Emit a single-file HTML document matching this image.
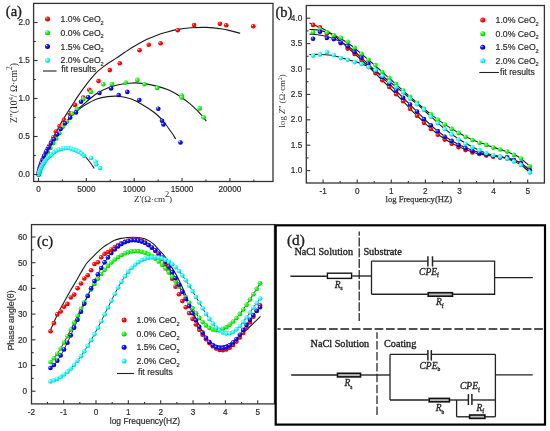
<!DOCTYPE html>
<html><head><meta charset="utf-8"><title>EIS figure</title>
<style>
html,body{margin:0;padding:0;background:#fff;overflow:hidden}
svg{display:block;will-change:transform}
.s{font-family:"Liberation Sans",sans-serif;stroke:#2a2a2a;stroke-width:.18px}
.t{font-family:"Liberation Serif",serif}
</style></head><body>
<svg width="550" height="431" viewBox="0 0 550 431">
<defs>
<radialGradient id="gr" cx="0.4" cy="0.4" r="0.6" fx="0.32" fy="0.3"><stop offset="0" stop-color="#fff"/><stop offset="0.3" stop-color="#ff2020"/><stop offset="0.7" stop-color="#ff0000"/><stop offset="1" stop-color="#c00000"/></radialGradient>
<circle id="mr" cx="0" cy="0" r="2.3" fill="url(#gr)"/>
<circle id="Lr" cx="0" cy="0" r="2.5" fill="url(#gr)"/>
<radialGradient id="gg" cx="0.4" cy="0.4" r="0.6" fx="0.32" fy="0.3"><stop offset="0" stop-color="#fff"/><stop offset="0.3" stop-color="#40ff40"/><stop offset="0.7" stop-color="#10ee10"/><stop offset="1" stop-color="#00b000"/></radialGradient>
<circle id="mg" cx="0" cy="0" r="2.3" fill="url(#gg)"/>
<circle id="Lg" cx="0" cy="0" r="2.5" fill="url(#gg)"/>
<radialGradient id="gb" cx="0.4" cy="0.4" r="0.6" fx="0.32" fy="0.3"><stop offset="0" stop-color="#fff"/><stop offset="0.3" stop-color="#3030ff"/><stop offset="0.7" stop-color="#0000ee"/><stop offset="1" stop-color="#0000a0"/></radialGradient>
<circle id="mb" cx="0" cy="0" r="2.3" fill="url(#gb)"/>
<circle id="Lb" cx="0" cy="0" r="2.5" fill="url(#gb)"/>
<radialGradient id="gc" cx="0.4" cy="0.4" r="0.6" fx="0.32" fy="0.3"><stop offset="0" stop-color="#fff"/><stop offset="0.3" stop-color="#60ffff"/><stop offset="0.7" stop-color="#10f0f0"/><stop offset="1" stop-color="#00c0c0"/></radialGradient>
<circle id="mc" cx="0" cy="0" r="2.3" fill="url(#gc)"/>
<circle id="Lc" cx="0" cy="0" r="2.5" fill="url(#gc)"/>
</defs>
<rect width="550" height="431" fill="#fff"/>
<path d="M38.5,174.5C38.83,173.08 39.67,168.92 40.5,166C41.33,163.08 42.5,159.58 43.5,157C44.5,154.42 45.53,152.5 46.5,150.5C47.47,148.5 48.22,147.17 49.3,145C50.38,142.83 51.65,140.03 53,137.5C54.35,134.97 55.7,132.82 57.4,129.8C59.1,126.78 60.88,123.27 63.2,119.4C65.52,115.53 68.78,110.57 71.3,106.6C73.82,102.63 75.77,99.32 78.3,95.6C80.83,91.88 83.5,88.12 86.5,84.3C89.5,80.48 93.05,75.95 96.3,72.7C99.55,69.45 102.73,67.18 106,64.8C109.27,62.42 112.82,60.45 115.9,58.4C118.98,56.35 121.58,54.43 124.5,52.5C127.42,50.57 129.73,48.95 133.4,46.8C137.07,44.65 142.67,41.5 146.5,39.6C150.33,37.7 153.15,36.62 156.4,35.4C159.65,34.18 162.48,33.3 166,32.3C169.52,31.3 173.33,30.15 177.5,29.4C181.67,28.65 186.17,28.13 191,27.8C195.83,27.47 201.28,27.2 206.5,27.4C211.72,27.6 218.22,28.42 222.3,29C226.38,29.58 228.02,30.18 231,30.9C233.98,31.62 238.67,32.9 240.2,33.3" fill="none" stroke="#1a1a1a" stroke-width="1.1"/>
<path d="M38.5,174.5C38.75,173.58 39.42,170.83 40,169C40.58,167.17 41.25,165.42 42,163.5C42.75,161.58 43.58,159.5 44.5,157.5C45.42,155.5 46.42,153.58 47.5,151.5C48.58,149.42 49.75,147.17 51,145C52.25,142.83 53.58,140.83 55,138.5C56.42,136.17 57.92,133.42 59.5,131C61.08,128.58 62.75,126.25 64.5,124C66.25,121.75 68.33,119.37 70,117.5C71.67,115.63 73.12,114.25 74.5,112.8C75.88,111.35 76.4,110.55 78.3,108.8C80.2,107.05 82.82,104.85 85.9,102.3C88.98,99.75 93.17,95.87 96.8,93.5C100.43,91.13 104.07,89.55 107.7,88.1C111.33,86.65 114.97,85.62 118.6,84.8C122.23,83.98 126.77,83.52 129.5,83.2C132.23,82.88 132.9,82.87 135,82.9C137.1,82.93 139.6,83.12 142.1,83.4C144.6,83.68 147.27,84.07 150,84.6C152.73,85.13 155.58,85.77 158.5,86.6C161.42,87.43 164.67,88.45 167.5,89.6C170.33,90.75 172.97,92.07 175.5,93.5C178.03,94.93 180.37,96.55 182.7,98.2C185.03,99.85 187.32,101.58 189.5,103.4C191.68,105.22 193.83,107.2 195.8,109.1C197.77,111 199.55,112.8 201.3,114.8C203.05,116.8 205.47,120.05 206.3,121.1" fill="none" stroke="#1a1a1a" stroke-width="1.1"/>
<path d="M38.5,174.5C38.75,173.58 39.42,170.83 40,169C40.58,167.17 41.25,165.42 42,163.5C42.75,161.58 43.58,159.5 44.5,157.5C45.42,155.5 46.42,153.58 47.5,151.5C48.58,149.42 49.75,147.17 51,145C52.25,142.83 53.58,140.83 55,138.5C56.42,136.17 57.92,133.42 59.5,131C61.08,128.58 62.75,126.25 64.5,124C66.25,121.75 68.33,119.33 70,117.5C71.67,115.67 73.12,114.27 74.5,113C75.88,111.73 76.4,111.32 78.3,109.9C80.2,108.48 82.82,106.32 85.9,104.5C88.98,102.68 93.17,100.32 96.8,99C100.43,97.68 104.07,97.05 107.7,96.6C111.33,96.15 114.97,95.98 118.6,96.3C122.23,96.62 126.77,97.78 129.5,98.5C132.23,99.22 132.92,99.6 135,100.6C137.08,101.6 139.5,103.02 142,104.5C144.5,105.98 147.75,108 150,109.5C152.25,111 153.68,112 155.5,113.5C157.32,115 159.23,116.75 160.9,118.5C162.57,120.25 164.05,122.12 165.5,124C166.95,125.88 168.38,128.08 169.6,129.8C170.82,131.52 171.78,132.77 172.8,134.3C173.82,135.83 175.22,138.22 175.7,139" fill="none" stroke="#1a1a1a" stroke-width="1.1"/>
<path d="M38.5,174.5C38.83,173.5 39.67,170.5 40.5,168.5C41.33,166.5 42.33,164.33 43.5,162.5C44.67,160.67 46.08,158.92 47.5,157.5C48.92,156.08 50.42,155.08 52,154C53.58,152.92 55.33,151.75 57,151C58.67,150.25 60.33,149.83 62,149.5C63.67,149.17 65.33,149 67,149C68.67,149 70.33,149.17 72,149.5C73.67,149.83 75.5,150.38 77,151C78.5,151.62 79.67,152.32 81,153.2C82.33,154.08 83.8,155.17 85,156.3C86.2,157.43 87.15,158.72 88.2,160C89.25,161.28 90.3,162.58 91.3,164C92.3,165.42 93.72,167.75 94.2,168.5" fill="none" stroke="#1a1a1a" stroke-width="1.1"/>
<use href="#mr" x="38.5" y="174.3"/>
<use href="#mr" x="38.7" y="172.8"/>
<use href="#mr" x="39" y="171.1"/>
<use href="#mr" x="39.4" y="169.3"/>
<use href="#mr" x="39.9" y="167.3"/>
<use href="#mr" x="40.6" y="165"/>
<use href="#mr" x="41.5" y="162.4"/>
<use href="#mr" x="42.6" y="159.5"/>
<use href="#mr" x="44" y="156.2"/>
<use href="#mr" x="45.6" y="152.7"/>
<use href="#mr" x="47.4" y="149.3"/>
<use href="#mr" x="49.4" y="145.8"/>
<use href="#mr" x="51.6" y="141.6"/>
<use href="#mr" x="53.4" y="137.2"/>
<use href="#mr" x="55.8" y="131.6"/>
<use href="#mr" x="59.5" y="126"/>
<use href="#mr" x="63.9" y="119.9"/>
<use href="#mr" x="69.6" y="113.4"/>
<use href="#mr" x="74.9" y="104.9"/>
<use href="#mr" x="83.2" y="97.6"/>
<use href="#mr" x="89.3" y="89.7"/>
<use href="#mr" x="98.5" y="81"/>
<use href="#mr" x="109.8" y="70.1"/>
<use href="#mr" x="119.8" y="63.3"/>
<use href="#mr" x="139.5" y="50.2"/>
<use href="#mr" x="148.7" y="44.8"/>
<use href="#mr" x="160.6" y="43.2"/>
<use href="#mr" x="177.7" y="30.3"/>
<use href="#mr" x="194.1" y="25"/>
<use href="#mr" x="219.9" y="23.7"/>
<use href="#mr" x="226.2" y="25.3"/>
<use href="#mr" x="253.2" y="26.3"/>
<use href="#mg" x="38.9" y="174.6"/>
<use href="#mg" x="39.2" y="173.2"/>
<use href="#mg" x="39.6" y="171.6"/>
<use href="#mg" x="40.2" y="169.8"/>
<use href="#mg" x="40.9" y="167.8"/>
<use href="#mg" x="41.8" y="165.5"/>
<use href="#mg" x="42.9" y="162.9"/>
<use href="#mg" x="44.3" y="159.9"/>
<use href="#mg" x="45.9" y="156.4"/>
<use href="#mg" x="47.9" y="152.6"/>
<use href="#mg" x="50.4" y="148"/>
<use href="#mg" x="53.3" y="143.1"/>
<use href="#mg" x="56.2" y="138.5"/>
<use href="#mg" x="59.1" y="133.3"/>
<use href="#mg" x="62.6" y="126.9"/>
<use href="#mg" x="66.9" y="121.7"/>
<use href="#mg" x="72.3" y="113.6"/>
<use href="#mg" x="76.9" y="108.9"/>
<use href="#mg" x="83.2" y="98.9"/>
<use href="#mg" x="90.8" y="91.9"/>
<use href="#mg" x="103.3" y="84.3"/>
<use href="#mg" x="112" y="84.1"/>
<use href="#mg" x="125.7" y="82.5"/>
<use href="#mg" x="137.3" y="79.9"/>
<use href="#mg" x="144.3" y="84.3"/>
<use href="#mg" x="157" y="87.9"/>
<use href="#mg" x="181.6" y="95.6"/>
<use href="#mg" x="181.6" y="97.5"/>
<use href="#mg" x="199.7" y="108.4"/>
<use href="#mg" x="203.5" y="117.2"/>
<use href="#mb" x="38.6" y="174.4"/>
<use href="#mb" x="38.8" y="173.1"/>
<use href="#mb" x="39.1" y="171.6"/>
<use href="#mb" x="39.5" y="169.9"/>
<use href="#mb" x="40" y="168"/>
<use href="#mb" x="40.7" y="165.8"/>
<use href="#mb" x="41.6" y="163.2"/>
<use href="#mb" x="42.8" y="159.9"/>
<use href="#mb" x="44.2" y="155.9"/>
<use href="#mb" x="46.3" y="151.6"/>
<use href="#mb" x="48.6" y="147.4"/>
<use href="#mb" x="51" y="143.1"/>
<use href="#mb" x="53.9" y="139.1"/>
<use href="#mb" x="57.2" y="134.4"/>
<use href="#mb" x="60.6" y="129"/>
<use href="#mb" x="64.9" y="123.4"/>
<use href="#mb" x="70.2" y="117.6"/>
<use href="#mb" x="76" y="112.4"/>
<use href="#mb" x="81" y="101.7"/>
<use href="#mb" x="88.2" y="97.2"/>
<use href="#mb" x="99.5" y="93"/>
<use href="#mb" x="111.1" y="88.4"/>
<use href="#mb" x="118.7" y="95"/>
<use href="#mb" x="127.3" y="91.9"/>
<use href="#mb" x="139.3" y="100"/>
<use href="#mb" x="158.3" y="108.7"/>
<use href="#mb" x="162" y="120.7"/>
<use href="#mb" x="163.5" y="124.4"/>
<use href="#mb" x="180.5" y="142.5"/>
<use href="#mc" x="38.6" y="174.6"/>
<use href="#mc" x="39" y="173"/>
<use href="#mc" x="39.6" y="171.2"/>
<use href="#mc" x="40.3" y="169.5"/>
<use href="#mc" x="41.1" y="167.8"/>
<use href="#mc" x="42" y="166"/>
<use href="#mc" x="43" y="164.2"/>
<use href="#mc" x="44.1" y="162.4"/>
<use href="#mc" x="45.3" y="160.7"/>
<use href="#mc" x="46.6" y="159"/>
<use href="#mc" x="48" y="157.4"/>
<use href="#mc" x="49.7" y="155.9"/>
<use href="#mc" x="51.5" y="154.5"/>
<use href="#mc" x="54" y="152.2"/>
<use href="#mc" x="56.5" y="150.6"/>
<use href="#mc" x="59" y="149.5"/>
<use href="#mc" x="61.5" y="148.7"/>
<use href="#mc" x="64" y="148.3"/>
<use href="#mc" x="66.5" y="148"/>
<use href="#mc" x="69" y="148"/>
<use href="#mc" x="71.5" y="148.8"/>
<use href="#mc" x="74" y="149.7"/>
<use href="#mc" x="76.5" y="150.6"/>
<use href="#mc" x="79" y="151.7"/>
<use href="#mc" x="81.5" y="153.5"/>
<use href="#mc" x="84" y="155.8"/>
<use href="#mc" x="91" y="158"/>
<use href="#mc" x="95.5" y="161.8"/>
<use href="#mc" x="96.2" y="164.2"/>
<use href="#mc" x="100" y="168"/>
<rect x="33.6" y="3.4" width="239.4" height="178.1" fill="none" stroke="#333" stroke-width="1.3"/>
<line x1="33.6" y1="174.5" x2="37.6" y2="174.5" stroke="#333" stroke-width="1.1"/>
<text x="29.9" y="176.9" font-size="8.2" text-anchor="end" class="s" fill="#2a2a2a" >0.0</text>
<line x1="33.6" y1="155.5" x2="35.8" y2="155.5" stroke="#333" stroke-width="1.1"/>
<line x1="33.6" y1="136.5" x2="37.6" y2="136.5" stroke="#333" stroke-width="1.1"/>
<text x="29.9" y="138.9" font-size="8.2" text-anchor="end" class="s" fill="#2a2a2a" >0.5</text>
<line x1="33.6" y1="117.5" x2="35.8" y2="117.5" stroke="#333" stroke-width="1.1"/>
<line x1="33.6" y1="98.5" x2="37.6" y2="98.5" stroke="#333" stroke-width="1.1"/>
<text x="29.9" y="100.9" font-size="8.2" text-anchor="end" class="s" fill="#2a2a2a" >1.0</text>
<line x1="33.6" y1="79.5" x2="35.8" y2="79.5" stroke="#333" stroke-width="1.1"/>
<line x1="33.6" y1="60.5" x2="37.6" y2="60.5" stroke="#333" stroke-width="1.1"/>
<text x="29.9" y="62.9" font-size="8.2" text-anchor="end" class="s" fill="#2a2a2a" >1.5</text>
<line x1="33.6" y1="41.5" x2="35.8" y2="41.5" stroke="#333" stroke-width="1.1"/>
<line x1="33.6" y1="22.5" x2="37.6" y2="22.5" stroke="#333" stroke-width="1.1"/>
<text x="29.9" y="24.9" font-size="8.2" text-anchor="end" class="s" fill="#2a2a2a" >2.0</text>
<line x1="38.5" y1="181.5" x2="38.5" y2="177.9" stroke="#333" stroke-width="1.1"/>
<text x="38.5" y="192.3" font-size="8.2" text-anchor="middle" class="s" fill="#2a2a2a" >0</text>
<line x1="62.42" y1="181.5" x2="62.42" y2="179.5" stroke="#333" stroke-width="1.1"/>
<line x1="86.35" y1="181.5" x2="86.35" y2="177.9" stroke="#333" stroke-width="1.1"/>
<text x="86.35" y="192.3" font-size="8.2" text-anchor="middle" class="s" fill="#2a2a2a" >5000</text>
<line x1="110.28" y1="181.5" x2="110.28" y2="179.5" stroke="#333" stroke-width="1.1"/>
<line x1="134.2" y1="181.5" x2="134.2" y2="177.9" stroke="#333" stroke-width="1.1"/>
<text x="134.2" y="192.3" font-size="8.2" text-anchor="middle" class="s" fill="#2a2a2a" >10000</text>
<line x1="158.12" y1="181.5" x2="158.12" y2="179.5" stroke="#333" stroke-width="1.1"/>
<line x1="182.05" y1="181.5" x2="182.05" y2="177.9" stroke="#333" stroke-width="1.1"/>
<text x="182.05" y="192.3" font-size="8.2" text-anchor="middle" class="s" fill="#2a2a2a" >15000</text>
<line x1="205.97" y1="181.5" x2="205.97" y2="179.5" stroke="#333" stroke-width="1.1"/>
<line x1="229.9" y1="181.5" x2="229.9" y2="177.9" stroke="#333" stroke-width="1.1"/>
<text x="229.9" y="192.3" font-size="8.2" text-anchor="middle" class="s" fill="#2a2a2a" >20000</text>
<line x1="253.83" y1="181.5" x2="253.83" y2="179.5" stroke="#333" stroke-width="1.1"/>
<text x="5.8" y="15.8" font-size="14.5" text-anchor="start" class="t" fill="#222" stroke="#222" stroke-width="0.35">(a)</text>
<text x="133.9" y="201.6" font-size="9.2" text-anchor="start" class="t" fill="#2a2a2a" letter-spacing="-0.1">Z′(Ω·cm<tspan dy="-4.9" font-size="8.4">2</tspan><tspan dy="4.9">)</tspan></text>
<text transform="translate(16.6,123) rotate(-90)" font-size="9.6" class="t" fill="#2a2a2a">Z″(10<tspan dy="-3.8" font-size="6.3">4</tspan><tspan dy="3.8">/ Ω·cm</tspan><tspan dy="-4.6" font-size="7.6">2</tspan><tspan dy="4.6">)</tspan></text>
<use href="#Lr" x="47.5" y="18.9"/>
<text x="60.6" y="22" font-size="8.7" text-anchor="start" class="s" fill="#2a2a2a" >1.0% CeO<tspan dy="2.5" dx="-0.2" font-size="5.6">2</tspan></text>
<use href="#Lg" x="47.5" y="32.7"/>
<text x="60.6" y="35.8" font-size="8.7" text-anchor="start" class="s" fill="#2a2a2a" >0.0% CeO<tspan dy="2.5" dx="-0.2" font-size="5.6">2</tspan></text>
<use href="#Lb" x="47.5" y="46.5"/>
<text x="60.6" y="49.6" font-size="8.7" text-anchor="start" class="s" fill="#2a2a2a" >1.5% CeO<tspan dy="2.5" dx="-0.2" font-size="5.6">2</tspan></text>
<use href="#Lc" x="47.5" y="60.3"/>
<text x="60.6" y="63.4" font-size="8.7" text-anchor="start" class="s" fill="#2a2a2a" >2.0% CeO<tspan dy="2.5" dx="-0.2" font-size="5.6">2</tspan></text>
<line x1="43" y1="71" x2="56.6" y2="71" stroke="#666" stroke-width="1.6"/>
<text x="61.3" y="71.9" font-size="8.7" text-anchor="start" class="s" fill="#2a2a2a" >fit results</text>
<path d="M309.5,23.1C311.42,23.88 317.08,25.85 321,27.8C324.92,29.75 328.58,31.52 333,34.8C337.42,38.08 342.75,43.3 347.5,47.5C352.25,51.7 356.92,55.75 361.5,60C366.08,64.25 370.42,68.5 375,73C379.58,77.5 384.33,82.3 389,87C393.67,91.7 398.33,96.42 403,101.2C407.67,105.98 412.33,111.1 417,115.7C421.67,120.3 426.33,124.88 431,128.8C435.67,132.72 440.33,136.2 445,139.2C449.67,142.2 454.33,144.63 459,146.8C463.67,148.97 468.33,150.78 473,152.2C477.67,153.62 482.42,154.45 487,155.3C491.58,156.15 497.08,156.8 500.5,157.3C503.92,157.8 505.25,157.8 507.5,158.3C509.75,158.8 511.75,159.47 514,160.3C516.25,161.13 518.37,161.63 521,163.3C523.63,164.97 528.33,169.13 529.8,170.3" fill="none" stroke="#1a1a1a" stroke-width="1.1"/>
<path d="M309.5,29.5C310.85,29.57 314.7,29.42 317.6,29.9C320.5,30.38 324.18,31.55 326.9,32.4C329.62,33.25 331.58,33.93 333.9,35C336.22,36.07 338.5,37.47 340.8,38.8C343.1,40.13 345.4,41.47 347.7,43C350,44.53 352.3,46.18 354.6,48C356.9,49.82 358.1,50.98 361.5,53.9C364.9,56.82 370.42,61.48 375,65.5C379.58,69.52 384.33,73.82 389,78C393.67,82.18 398.33,86.48 403,90.6C407.67,94.72 412.33,98.73 417,102.7C421.67,106.67 426.33,110.75 431,114.4C435.67,118.05 440.33,121.52 445,124.6C449.67,127.68 454.33,130.33 459,132.9C463.67,135.47 468.42,138 473,140C477.58,142 481.92,143.32 486.5,144.9C491.08,146.48 495.92,147.9 500.5,149.5C505.08,151.1 510.58,152.98 514,154.5C517.42,156.02 518.37,156.65 521,158.6C523.63,160.55 528.33,164.93 529.8,166.2" fill="none" stroke="#1a1a1a" stroke-width="1.1"/>
<path d="M309.5,34.1C310.85,34.2 314.7,34.3 317.6,34.7C320.5,35.1 324.18,35.82 326.9,36.5C329.62,37.18 331.58,37.93 333.9,38.8C336.22,39.67 338.5,40.5 340.8,41.7C343.1,42.9 345.4,44.37 347.7,46C350,47.63 352.3,49.53 354.6,51.5C356.9,53.47 358.1,54.63 361.5,57.8C364.9,60.97 370.42,66.18 375,70.5C379.58,74.82 384.33,79.17 389,83.7C393.67,88.23 398.33,93.05 403,97.7C407.67,102.35 412.33,107 417,111.6C421.67,116.2 426.33,121.15 431,125.3C435.67,129.45 440.33,133.27 445,136.5C449.67,139.73 454.33,142.37 459,144.7C463.67,147.03 468.42,148.88 473,150.5C477.58,152.12 481.92,153.35 486.5,154.4C491.08,155.45 497,156.22 500.5,156.8C504,157.38 505.25,157.37 507.5,157.9C509.75,158.43 511.75,159.12 514,160C516.25,160.88 518.37,161.48 521,163.2C523.63,164.92 528.33,169.12 529.8,170.3" fill="none" stroke="#1a1a1a" stroke-width="1.1"/>
<path d="M309.5,54.5C311.23,54.5 315.83,54.28 319.9,54.5C323.97,54.72 329.25,54.93 333.9,55.8C338.55,56.67 343.17,58.38 347.8,59.7C352.43,61.02 357.17,61.9 361.7,63.7C366.23,65.5 370.45,67.57 375,70.5C379.55,73.43 384.33,77.63 389,81.3C393.67,84.97 398.33,88.68 403,92.5C407.67,96.32 412.33,100.18 417,104.2C421.67,108.22 426.33,112.45 431,116.6C435.67,120.75 440.33,125.33 445,129.1C449.67,132.87 454.33,136.18 459,139.2C463.67,142.22 468.42,144.85 473,147.2C477.58,149.55 481.92,151.7 486.5,153.3C491.08,154.9 497,155.9 500.5,156.8C504,157.7 505.25,157.92 507.5,158.7C509.75,159.48 511.75,160.45 514,161.5C516.25,162.55 518.37,163.18 521,165C523.63,166.82 528.33,171.17 529.8,172.4" fill="none" stroke="#1a1a1a" stroke-width="1.1"/>
<use href="#mr" x="313" y="24.9"/>
<use href="#mr" x="319.93" y="27.4"/>
<use href="#mr" x="326.86" y="33.8"/>
<use href="#mr" x="333.79" y="38.8"/>
<use href="#mr" x="340.72" y="43.2"/>
<use href="#mr" x="347.65" y="48.6"/>
<use href="#mr" x="354.58" y="54"/>
<use href="#mr" x="361.51" y="60.1"/>
<use href="#mr" x="368.44" y="66.5"/>
<use href="#mr" x="375.37" y="73.1"/>
<use href="#mr" x="382.3" y="80.2"/>
<use href="#mr" x="389.23" y="87"/>
<use href="#mr" x="396.16" y="94.3"/>
<use href="#mr" x="403.09" y="101.2"/>
<use href="#mr" x="410.02" y="108.8"/>
<use href="#mr" x="416.95" y="115.7"/>
<use href="#mr" x="423.88" y="122.7"/>
<use href="#mr" x="430.81" y="129"/>
<use href="#mr" x="437.74" y="134.8"/>
<use href="#mr" x="444.67" y="139.6"/>
<use href="#mr" x="451.6" y="143.8"/>
<use href="#mr" x="458.53" y="147.2"/>
<use href="#mr" x="465.46" y="150.1"/>
<use href="#mr" x="472.39" y="152.4"/>
<use href="#mr" x="479.32" y="153.9"/>
<use href="#mr" x="486.25" y="155.4"/>
<use href="#mr" x="493.18" y="156.8"/>
<use href="#mr" x="500.11" y="157.6"/>
<use href="#mr" x="507.04" y="158.3"/>
<use href="#mr" x="513.97" y="160.5"/>
<use href="#mr" x="520.9" y="163.5"/>
<use href="#mr" x="529.8" y="170"/>
<use href="#mg" x="313" y="32.2"/>
<use href="#mg" x="319.93" y="29.2"/>
<use href="#mg" x="326.86" y="32.4"/>
<use href="#mg" x="333.79" y="35.3"/>
<use href="#mg" x="340.72" y="37.7"/>
<use href="#mg" x="347.65" y="41.7"/>
<use href="#mg" x="354.58" y="47.8"/>
<use href="#mg" x="361.51" y="53.9"/>
<use href="#mg" x="368.44" y="59.7"/>
<use href="#mg" x="375.37" y="65.1"/>
<use href="#mg" x="382.3" y="72"/>
<use href="#mg" x="389.23" y="78"/>
<use href="#mg" x="396.16" y="84.1"/>
<use href="#mg" x="403.09" y="90.6"/>
<use href="#mg" x="410.02" y="96.7"/>
<use href="#mg" x="416.95" y="102.7"/>
<use href="#mg" x="423.88" y="108.8"/>
<use href="#mg" x="430.81" y="114.4"/>
<use href="#mg" x="437.74" y="119.9"/>
<use href="#mg" x="444.67" y="124.6"/>
<use href="#mg" x="451.6" y="128.9"/>
<use href="#mg" x="458.53" y="132.9"/>
<use href="#mg" x="465.46" y="136.7"/>
<use href="#mg" x="472.39" y="140"/>
<use href="#mg" x="479.32" y="142.8"/>
<use href="#mg" x="486.25" y="144.9"/>
<use href="#mg" x="493.18" y="147.6"/>
<use href="#mg" x="500.11" y="149.5"/>
<use href="#mg" x="507.04" y="151.6"/>
<use href="#mg" x="513.97" y="154.9"/>
<use href="#mg" x="520.9" y="158.5"/>
<use href="#mg" x="529.8" y="166.2"/>
<use href="#mb" x="313" y="38.8"/>
<use href="#mb" x="319.93" y="31.8"/>
<use href="#mb" x="326.86" y="38"/>
<use href="#mb" x="333.79" y="39.1"/>
<use href="#mb" x="340.72" y="42.6"/>
<use href="#mb" x="347.65" y="46.3"/>
<use href="#mb" x="354.58" y="51.9"/>
<use href="#mb" x="361.51" y="57.8"/>
<use href="#mb" x="368.44" y="63.8"/>
<use href="#mb" x="375.37" y="70.5"/>
<use href="#mb" x="382.3" y="77"/>
<use href="#mb" x="389.23" y="83.7"/>
<use href="#mb" x="396.16" y="90.6"/>
<use href="#mb" x="403.09" y="97.7"/>
<use href="#mb" x="410.02" y="104.5"/>
<use href="#mb" x="416.95" y="111.6"/>
<use href="#mb" x="423.88" y="119"/>
<use href="#mb" x="430.81" y="125.3"/>
<use href="#mb" x="437.74" y="131.1"/>
<use href="#mb" x="444.67" y="136.7"/>
<use href="#mb" x="451.6" y="140.9"/>
<use href="#mb" x="458.53" y="144.9"/>
<use href="#mb" x="465.46" y="148.2"/>
<use href="#mb" x="472.39" y="150.7"/>
<use href="#mb" x="479.32" y="153"/>
<use href="#mb" x="486.25" y="154.5"/>
<use href="#mb" x="493.18" y="155.8"/>
<use href="#mb" x="500.11" y="156.8"/>
<use href="#mb" x="507.04" y="157.4"/>
<use href="#mb" x="513.97" y="160"/>
<use href="#mb" x="520.9" y="163.1"/>
<use href="#mb" x="529.8" y="170.2"/>
<use href="#mc" x="313" y="55.6"/>
<use href="#mc" x="319.93" y="54.4"/>
<use href="#mc" x="326.86" y="52"/>
<use href="#mc" x="333.79" y="55"/>
<use href="#mc" x="340.72" y="58.1"/>
<use href="#mc" x="347.65" y="59.8"/>
<use href="#mc" x="354.58" y="62.1"/>
<use href="#mc" x="361.51" y="64"/>
<use href="#mc" x="368.44" y="67.1"/>
<use href="#mc" x="375.37" y="70"/>
<use href="#mc" x="382.3" y="75.8"/>
<use href="#mc" x="389.23" y="81.5"/>
<use href="#mc" x="396.16" y="86.9"/>
<use href="#mc" x="403.09" y="92.5"/>
<use href="#mc" x="410.02" y="98.6"/>
<use href="#mc" x="416.95" y="104.2"/>
<use href="#mc" x="423.88" y="109.7"/>
<use href="#mc" x="430.81" y="116.6"/>
<use href="#mc" x="437.74" y="123.1"/>
<use href="#mc" x="444.67" y="129.1"/>
<use href="#mc" x="451.6" y="134.4"/>
<use href="#mc" x="458.53" y="139.2"/>
<use href="#mc" x="465.46" y="143.8"/>
<use href="#mc" x="472.39" y="147.2"/>
<use href="#mc" x="479.32" y="150.1"/>
<use href="#mc" x="486.25" y="153.3"/>
<use href="#mc" x="493.18" y="155.2"/>
<use href="#mc" x="500.11" y="156.8"/>
<use href="#mc" x="507.04" y="158.7"/>
<use href="#mc" x="513.97" y="161.5"/>
<use href="#mc" x="520.9" y="165"/>
<use href="#mc" x="529.8" y="172.4"/>
<rect x="306.3" y="5.5" width="238.1" height="177.5" fill="none" stroke="#333" stroke-width="1.3"/>
<line x1="306.3" y1="170.6" x2="310.3" y2="170.6" stroke="#333" stroke-width="1.1"/>
<text x="302.2" y="173.1" font-size="8.2" text-anchor="end" class="s" fill="#2a2a2a" >1.0</text>
<line x1="306.3" y1="157.9" x2="308.5" y2="157.9" stroke="#333" stroke-width="1.1"/>
<line x1="306.3" y1="145.2" x2="310.3" y2="145.2" stroke="#333" stroke-width="1.1"/>
<text x="302.2" y="147.7" font-size="8.2" text-anchor="end" class="s" fill="#2a2a2a" >1.5</text>
<line x1="306.3" y1="132.5" x2="308.5" y2="132.5" stroke="#333" stroke-width="1.1"/>
<line x1="306.3" y1="119.8" x2="310.3" y2="119.8" stroke="#333" stroke-width="1.1"/>
<text x="302.2" y="122.3" font-size="8.2" text-anchor="end" class="s" fill="#2a2a2a" >2.0</text>
<line x1="306.3" y1="107.1" x2="308.5" y2="107.1" stroke="#333" stroke-width="1.1"/>
<line x1="306.3" y1="94.4" x2="310.3" y2="94.4" stroke="#333" stroke-width="1.1"/>
<text x="302.2" y="96.9" font-size="8.2" text-anchor="end" class="s" fill="#2a2a2a" >2.5</text>
<line x1="306.3" y1="81.7" x2="308.5" y2="81.7" stroke="#333" stroke-width="1.1"/>
<line x1="306.3" y1="69" x2="310.3" y2="69" stroke="#333" stroke-width="1.1"/>
<text x="302.2" y="71.5" font-size="8.2" text-anchor="end" class="s" fill="#2a2a2a" >3.0</text>
<line x1="306.3" y1="56.3" x2="308.5" y2="56.3" stroke="#333" stroke-width="1.1"/>
<line x1="306.3" y1="43.6" x2="310.3" y2="43.6" stroke="#333" stroke-width="1.1"/>
<text x="302.2" y="46.1" font-size="8.2" text-anchor="end" class="s" fill="#2a2a2a" >3.5</text>
<line x1="306.3" y1="30.9" x2="308.5" y2="30.9" stroke="#333" stroke-width="1.1"/>
<line x1="306.3" y1="18.2" x2="310.3" y2="18.2" stroke="#333" stroke-width="1.1"/>
<text x="302.2" y="20.7" font-size="8.2" text-anchor="end" class="s" fill="#2a2a2a" >4.0</text>
<line x1="323.1" y1="183" x2="323.1" y2="179.4" stroke="#333" stroke-width="1.1"/>
<text x="323.1" y="194.2" font-size="8.2" text-anchor="middle" class="s" fill="#2a2a2a" >-1</text>
<line x1="340.15" y1="183" x2="340.15" y2="181" stroke="#333" stroke-width="1.1"/>
<line x1="357.2" y1="183" x2="357.2" y2="179.4" stroke="#333" stroke-width="1.1"/>
<text x="357.2" y="194.2" font-size="8.2" text-anchor="middle" class="s" fill="#2a2a2a" >0</text>
<line x1="374.25" y1="183" x2="374.25" y2="181" stroke="#333" stroke-width="1.1"/>
<line x1="391.3" y1="183" x2="391.3" y2="179.4" stroke="#333" stroke-width="1.1"/>
<text x="391.3" y="194.2" font-size="8.2" text-anchor="middle" class="s" fill="#2a2a2a" >1</text>
<line x1="408.35" y1="183" x2="408.35" y2="181" stroke="#333" stroke-width="1.1"/>
<line x1="425.4" y1="183" x2="425.4" y2="179.4" stroke="#333" stroke-width="1.1"/>
<text x="425.4" y="194.2" font-size="8.2" text-anchor="middle" class="s" fill="#2a2a2a" >2</text>
<line x1="442.45" y1="183" x2="442.45" y2="181" stroke="#333" stroke-width="1.1"/>
<line x1="459.5" y1="183" x2="459.5" y2="179.4" stroke="#333" stroke-width="1.1"/>
<text x="459.5" y="194.2" font-size="8.2" text-anchor="middle" class="s" fill="#2a2a2a" >3</text>
<line x1="476.55" y1="183" x2="476.55" y2="181" stroke="#333" stroke-width="1.1"/>
<line x1="493.6" y1="183" x2="493.6" y2="179.4" stroke="#333" stroke-width="1.1"/>
<text x="493.6" y="194.2" font-size="8.2" text-anchor="middle" class="s" fill="#2a2a2a" >4</text>
<line x1="510.65" y1="183" x2="510.65" y2="181" stroke="#333" stroke-width="1.1"/>
<line x1="527.7" y1="183" x2="527.7" y2="179.4" stroke="#333" stroke-width="1.1"/>
<text x="527.7" y="194.2" font-size="8.2" text-anchor="middle" class="s" fill="#2a2a2a" >5</text>
<text x="275.5" y="16.5" font-size="14.5" text-anchor="start" class="t" fill="#222" stroke="#222" stroke-width="0.35">(b)</text>
<text x="385.5" y="202.4" font-size="8.6" text-anchor="start" class="t" fill="#333" stroke="#333" stroke-width="0.25">log Frequency(HZ)</text>
<text transform="translate(285.2,127.4) rotate(-90)" font-size="8.8" class="t" fill="#333">log <tspan font-style="italic">Z</tspan>″ (Ω·cm<tspan dy="-3.5" font-size="5.5">2</tspan><tspan dy="3.5">)</tspan></text>
<use href="#Lr" x="482.7" y="20.1"/>
<text x="495.6" y="23.2" font-size="8.7" text-anchor="start" class="s" fill="#2a2a2a" >1.0% CeO<tspan dy="2.5" dx="-0.2" font-size="5.6">2</tspan></text>
<use href="#Lg" x="482.7" y="33.7"/>
<text x="495.6" y="36.8" font-size="8.7" text-anchor="start" class="s" fill="#2a2a2a" >0.0% CeO<tspan dy="2.5" dx="-0.2" font-size="5.6">2</tspan></text>
<use href="#Lb" x="482.7" y="47.2"/>
<text x="495.6" y="50.3" font-size="8.7" text-anchor="start" class="s" fill="#2a2a2a" >1.5% CeO<tspan dy="2.5" dx="-0.2" font-size="5.6">2</tspan></text>
<use href="#Lc" x="482.7" y="60.8"/>
<text x="495.6" y="63.9" font-size="8.7" text-anchor="start" class="s" fill="#2a2a2a" >2.0% CeO<tspan dy="2.5" dx="-0.2" font-size="5.6">2</tspan></text>
<line x1="479.3" y1="72.5" x2="498.9" y2="72.5" stroke="#222" stroke-width="1.1"/>
<text x="500" y="74.5" font-size="8.7" text-anchor="start" class="s" fill="#2a2a2a" >fit results</text>
<path d="M49.4,332.5C50.32,330.42 53.13,323.83 54.9,320C56.67,316.17 58.18,313 60,309.5C61.82,306 64.05,302.17 65.8,299C67.55,295.83 68.87,293.33 70.5,290.5C72.13,287.67 73.85,285 75.6,282C77.35,279 79.18,275.58 81,272.5C82.82,269.42 84.67,265.97 86.5,263.5C88.33,261.03 90.17,259.58 92,257.7C93.83,255.82 95.67,253.92 97.5,252.2C99.33,250.48 101.18,248.78 103,247.4C104.82,246.02 106.48,245.08 108.4,243.9C110.32,242.72 112.4,241.22 114.5,240.3C116.6,239.38 118.83,238.87 121,238.4C123.17,237.93 125.35,237.68 127.5,237.5C129.65,237.32 131.75,237.25 133.9,237.3C136.05,237.35 138.23,237.4 140.4,237.8C142.57,238.2 144.73,238.7 146.9,239.7C149.07,240.7 151.38,242.08 153.4,243.8C155.42,245.52 157.02,247.8 159,250C160.98,252.2 163.32,254.33 165.3,257C167.28,259.67 168.93,262.77 170.9,266C172.87,269.23 175.25,272.98 177.1,276.4C178.95,279.82 180.43,283.07 182,286.5C183.57,289.93 185.17,293.83 186.5,297C187.83,300.17 188.58,302.25 190,305.5C191.42,308.75 193.5,313.25 195,316.5C196.5,319.75 197.67,322.33 199,325C200.33,327.67 201.67,330.2 203,332.5C204.33,334.8 205.67,337.08 207,338.8C208.33,340.52 209.5,341.72 211,342.8C212.5,343.88 214.5,344.77 216,345.3C217.5,345.83 218.53,345.95 220,346C221.47,346.05 222.77,346.25 224.8,345.6C226.83,344.95 229.75,343.63 232.2,342.1C234.65,340.57 237.07,338.5 239.5,336.4C241.93,334.3 244.37,331.78 246.8,329.5C249.23,327.22 251.83,324.88 254.1,322.7C256.37,320.52 259.35,317.45 260.4,316.4" fill="none" stroke="#1a1a1a" stroke-width="1.1"/>
<path d="M50.5,361.93C51.09,361.28 52.87,359.5 54.05,358.04C55.23,356.59 56.42,354.96 57.6,353.21C58.79,351.47 59.97,349.57 61.15,347.59C62.34,345.61 63.52,343.49 64.7,341.32C65.89,339.15 67.07,336.88 68.25,334.57C69.44,332.26 70.62,329.87 71.81,327.48C72.99,325.08 74.17,322.63 75.36,320.2C76.54,317.77 77.72,315.31 78.91,312.89C80.09,310.47 81.27,308.05 82.46,305.69C83.64,303.33 84.82,300.99 86.01,298.73C87.19,296.47 88.38,294.26 89.56,292.14C90.74,290.03 91.93,287.99 93.11,286.04C94.29,284.09 95.48,282.23 96.66,280.45C97.84,278.67 99.03,276.97 100.21,275.35C101.4,273.73 102.58,272.2 103.76,270.74C104.95,269.29 106.13,267.91 107.31,266.61C108.5,265.32 109.68,264.1 110.86,262.96C112.05,261.83 113.23,260.77 114.42,259.8C115.6,258.82 116.78,257.93 117.97,257.11C119.15,256.3 120.33,255.57 121.52,254.92C122.7,254.27 123.88,253.7 125.07,253.21C126.25,252.72 127.44,252.31 128.62,251.99C129.8,251.66 130.99,251.42 132.17,251.26C133.35,251.1 134.54,251.02 135.72,251.02C136.9,251.02 138.09,251.11 139.27,251.28C140.45,251.45 141.64,251.7 142.82,252.03C144.01,252.37 145.19,252.78 146.37,253.28C147.56,253.78 148.74,254.36 149.92,255.03C151.11,255.7 152.29,256.45 153.47,257.28C154.66,258.11 155.84,259.03 157.03,260.03C158.21,261.03 159.39,262.12 160.58,263.27C161.76,264.43 162.94,265.66 164.13,266.96C165.31,268.26 166.49,269.64 167.68,271.08C168.86,272.51 170.05,274.02 171.23,275.58C172.41,277.14 173.6,278.76 174.78,280.43C175.96,282.1 177.15,283.83 178.33,285.61C179.51,287.38 180.7,289.21 181.88,291.07C183.06,292.93 184.25,294.85 185.43,296.76C186.62,298.67 187.8,300.62 188.98,302.52C190.17,304.42 191.35,306.33 192.53,308.17C193.72,310 194.9,311.82 196.08,313.52C197.27,315.23 198.45,316.89 199.64,318.41C200.82,319.93 202,321.37 203.19,322.64C204.37,323.91 205.55,325.08 206.74,326.04C207.92,327.01 209.1,327.82 210.29,328.44C211.47,329.06 212.66,329.49 213.84,329.76C215.02,330.04 216.21,330.13 217.39,330.09C218.57,330.04 219.76,329.83 220.94,329.49C222.12,329.15 223.31,328.65 224.49,328.04C225.68,327.43 226.86,326.68 228.04,325.82C229.23,324.96 230.41,323.97 231.59,322.9C232.78,321.82 233.96,320.62 235.14,319.35C236.33,318.08 237.51,316.7 238.69,315.26C239.88,313.82 241.06,312.28 242.25,310.69C243.43,309.11 244.61,307.44 245.8,305.73C246.98,304.02 248.16,302.25 249.35,300.45C250.53,298.65 251.71,296.79 252.9,294.92C254.08,293.05 255.27,291.13 256.45,289.22C257.63,287.3 259.41,284.39 260,283.42" fill="none" stroke="#1a1a1a" stroke-width="0.9"/>
<path d="M50.5,367.98C51.09,367.44 52.87,366.06 54.05,364.78C55.23,363.5 56.42,361.97 57.6,360.29C58.79,358.61 59.97,356.71 61.15,354.68C62.34,352.66 63.52,350.45 64.7,348.15C65.89,345.85 67.07,343.4 68.25,340.89C69.44,338.37 70.62,335.73 71.81,333.06C72.99,330.4 74.17,327.64 75.36,324.88C76.54,322.12 77.72,319.3 78.91,316.51C80.09,313.71 81.27,310.89 82.46,308.11C83.64,305.33 84.82,302.54 86.01,299.8C87.19,297.07 88.38,294.35 89.56,291.7C90.74,289.06 91.93,286.44 93.11,283.92C94.29,281.4 95.48,278.93 96.66,276.58C97.84,274.22 99.03,271.94 100.21,269.78C101.4,267.63 102.58,265.58 103.76,263.66C104.95,261.74 106.13,259.95 107.31,258.28C108.5,256.6 109.68,255.06 110.86,253.63C112.05,252.2 113.23,250.9 114.42,249.71C115.6,248.52 116.78,247.45 117.97,246.48C119.15,245.52 120.33,244.68 121.52,243.94C122.7,243.21 123.88,242.59 125.07,242.07C126.25,241.55 127.44,241.14 128.62,240.84C129.8,240.53 130.99,240.33 132.17,240.23C133.35,240.13 134.54,240.14 135.72,240.24C136.9,240.34 138.09,240.54 139.27,240.83C140.45,241.12 141.64,241.52 142.82,242C144.01,242.48 145.19,243.05 146.37,243.71C147.56,244.37 148.74,245.13 149.92,245.96C151.11,246.8 152.29,247.72 153.47,248.73C154.66,249.73 155.84,250.82 157.03,251.99C158.21,253.16 159.39,254.41 160.58,255.75C161.76,257.1 162.94,258.53 164.13,260.07C165.31,261.6 166.49,263.23 167.68,264.98C168.86,266.73 170.05,268.59 171.23,270.55C172.41,272.51 173.6,274.59 174.78,276.75C175.96,278.9 177.15,281.17 178.33,283.49C179.51,285.82 180.7,288.26 181.88,290.71C183.06,293.17 184.25,295.72 185.43,298.25C186.62,300.77 187.8,303.36 188.98,305.89C190.17,308.42 191.35,310.97 192.53,313.44C193.72,315.91 194.9,318.37 196.08,320.71C197.27,323.05 198.45,325.34 199.64,327.49C200.82,329.63 202,331.7 203.19,333.58C204.37,335.46 205.55,337.23 206.74,338.78C207.92,340.33 209.1,341.72 210.29,342.9C211.47,344.07 212.66,345.04 213.84,345.82C215.02,346.59 216.21,347.17 217.39,347.57C218.57,347.97 219.76,348.17 220.94,348.2C222.12,348.23 223.31,348.07 224.49,347.75C225.68,347.44 226.86,346.94 228.04,346.28C229.23,345.63 230.41,344.8 231.59,343.82C232.78,342.85 233.96,341.7 235.14,340.43C236.33,339.15 237.51,337.69 238.69,336.16C239.88,334.63 241.06,332.95 242.25,331.26C243.43,329.56 244.61,327.76 245.8,326C246.98,324.24 248.16,322.42 249.35,320.69C250.53,318.96 251.71,317.21 252.9,315.61C254.08,314 255.27,312.43 256.45,311.05C257.63,309.67 259.41,307.93 260,307.31" fill="none" stroke="#1a1a1a" stroke-width="0.9"/>
<path d="M50.5,381.41C51.09,381.2 52.87,380.67 54.05,380.19C55.23,379.71 56.42,379.16 57.6,378.54C58.79,377.92 59.97,377.23 61.15,376.46C62.34,375.68 63.52,374.84 64.7,373.91C65.89,372.99 67.07,371.98 68.25,370.9C69.44,369.81 70.62,368.65 71.81,367.39C72.99,366.14 74.17,364.81 75.36,363.39C76.54,361.98 77.72,360.47 78.91,358.89C80.09,357.32 81.27,355.65 82.46,353.92C83.64,352.2 84.82,350.39 86.01,348.52C87.19,346.65 88.38,344.71 89.56,342.71C90.74,340.71 91.93,338.64 93.11,336.52C94.29,334.4 95.48,332.22 96.66,329.99C97.84,327.76 99.03,325.47 100.21,323.14C101.4,320.82 102.58,318.43 103.76,316.04C104.95,313.64 106.13,311.2 107.31,308.79C108.5,306.38 109.68,303.95 110.86,301.57C112.05,299.19 113.23,296.81 114.42,294.52C115.6,292.22 116.78,289.96 117.97,287.8C119.15,285.64 120.33,283.54 121.52,281.56C122.7,279.59 123.88,277.7 125.07,275.97C126.25,274.24 127.44,272.63 128.62,271.16C129.8,269.7 130.99,268.38 132.17,267.17C133.35,265.97 134.54,264.9 135.72,263.94C136.9,262.98 138.09,262.15 139.27,261.42C140.45,260.68 141.64,260.06 142.82,259.53C144.01,258.99 145.19,258.57 146.37,258.22C147.56,257.87 148.74,257.61 149.92,257.42C151.11,257.24 152.29,257.13 153.47,257.1C154.66,257.07 155.84,257.12 157.03,257.26C158.21,257.4 159.39,257.62 160.58,257.94C161.76,258.26 162.94,258.66 164.13,259.17C165.31,259.68 166.49,260.28 167.68,260.99C168.86,261.7 170.05,262.5 171.23,263.42C172.41,264.35 173.6,265.37 174.78,266.51C175.96,267.66 177.15,268.92 178.33,270.29C179.51,271.67 180.7,273.18 181.88,274.77C183.06,276.35 184.25,278.06 185.43,279.83C186.62,281.59 187.8,283.45 188.98,285.34C190.17,287.23 191.35,289.2 192.53,291.17C193.72,293.14 194.9,295.17 196.08,297.18C197.27,299.19 198.45,301.23 199.64,303.23C200.82,305.23 202,307.24 203.19,309.19C204.37,311.14 205.55,313.08 206.74,314.92C207.92,316.76 209.1,318.56 210.29,320.22C211.47,321.88 212.66,323.47 213.84,324.89C215.02,326.3 216.21,327.6 217.39,328.69C218.57,329.79 219.76,330.72 220.94,331.44C222.12,332.16 223.31,332.7 224.49,333.02C225.68,333.35 226.86,333.48 228.04,333.4C229.23,333.32 230.41,333.03 231.59,332.52C232.78,332.02 233.96,331.27 235.14,330.38C236.33,329.48 237.51,328.35 238.69,327.13C239.88,325.91 241.06,324.5 242.25,323.04C243.43,321.58 244.61,319.97 245.8,318.35C246.98,316.73 248.16,315.01 249.35,313.32C250.53,311.62 251.71,309.87 252.9,308.18C254.08,306.5 255.27,304.8 256.45,303.2C257.63,301.61 259.41,299.39 260,298.63" fill="none" stroke="#1a1a1a" stroke-width="0.9"/>
<use href="#mr" x="50.5" y="331.2"/>
<use href="#mr" x="53.88" y="323.1"/>
<use href="#mr" x="57.26" y="314.4"/>
<use href="#mr" x="60.64" y="311.5"/>
<use href="#mr" x="64.02" y="306.8"/>
<use href="#mr" x="67.4" y="303.9"/>
<use href="#mr" x="70.78" y="297.5"/>
<use href="#mr" x="74.16" y="294.6"/>
<use href="#mr" x="77.54" y="288.3"/>
<use href="#mr" x="80.92" y="283.5"/>
<use href="#mr" x="84.3" y="278.5"/>
<use href="#mr" x="87.68" y="275.2"/>
<use href="#mr" x="91.06" y="270.2"/>
<use href="#mr" x="94.44" y="264"/>
<use href="#mr" x="97.82" y="262.3"/>
<use href="#mr" x="101.2" y="257.3"/>
<use href="#mr" x="104.58" y="253.8"/>
<use href="#mr" x="107.96" y="252"/>
<use href="#mr" x="111.34" y="249.6"/>
<use href="#mr" x="114.72" y="247"/>
<use href="#mr" x="118.1" y="245"/>
<use href="#mr" x="121.48" y="243.2"/>
<use href="#mr" x="124.86" y="241.79"/>
<use href="#mr" x="128.24" y="240.55"/>
<use href="#mr" x="131.62" y="239.73"/>
<use href="#mr" x="135" y="239.43"/>
<use href="#mr" x="138.38" y="239.76"/>
<use href="#mr" x="141.76" y="240.83"/>
<use href="#mr" x="145.14" y="242.64"/>
<use href="#mr" x="148.52" y="245.03"/>
<use href="#mr" x="151.9" y="247.79"/>
<use href="#mr" x="155.28" y="250.89"/>
<use href="#mr" x="158.66" y="254.52"/>
<use href="#mr" x="162.04" y="258.95"/>
<use href="#mr" x="165.42" y="264.43"/>
<use href="#mr" x="168.8" y="271.13"/>
<use href="#mr" x="172.18" y="278.75"/>
<use href="#mr" x="175.56" y="286.67"/>
<use href="#mr" x="178.94" y="294.25"/>
<use href="#mr" x="182.32" y="301.05"/>
<use href="#mr" x="185.7" y="307.23"/>
<use href="#mr" x="189.08" y="313.09"/>
<use href="#mr" x="192.46" y="318.85"/>
<use href="#mr" x="195.84" y="324.46"/>
<use href="#mr" x="199.22" y="329.79"/>
<use href="#mr" x="202.6" y="334.76"/>
<use href="#mr" x="205.98" y="339.22"/>
<use href="#mr" x="209.36" y="343.09"/>
<use href="#mr" x="212.74" y="346.23"/>
<use href="#mr" x="216.12" y="348.54"/>
<use href="#mr" x="219.5" y="349.91"/>
<use href="#mr" x="222.88" y="350.21"/>
<use href="#mr" x="226.26" y="349.44"/>
<use href="#mr" x="229.64" y="347.67"/>
<use href="#mr" x="233.02" y="345.03"/>
<use href="#mr" x="236.4" y="341.61"/>
<use href="#mr" x="239.78" y="337.53"/>
<use href="#mr" x="243.16" y="332.91"/>
<use href="#mr" x="246.54" y="327.83"/>
<use href="#mr" x="249.92" y="322.42"/>
<use href="#mr" x="253.3" y="316.78"/>
<use href="#mr" x="256.68" y="311.03"/>
<use href="#mr" x="260.06" y="305.26"/>
<use href="#mg" x="50.5" y="361.93"/>
<use href="#mg" x="53.88" y="358.25"/>
<use href="#mg" x="57.26" y="353.72"/>
<use href="#mg" x="60.64" y="348.44"/>
<use href="#mg" x="64.02" y="342.57"/>
<use href="#mg" x="67.4" y="336.23"/>
<use href="#mg" x="70.78" y="329.55"/>
<use href="#mg" x="74.16" y="322.66"/>
<use href="#mg" x="77.54" y="315.7"/>
<use href="#mg" x="80.92" y="308.78"/>
<use href="#mg" x="84.3" y="302.04"/>
<use href="#mg" x="87.68" y="295.57"/>
<use href="#mg" x="91.06" y="289.5"/>
<use href="#mg" x="94.44" y="283.89"/>
<use href="#mg" x="97.82" y="278.73"/>
<use href="#mg" x="101.2" y="274.02"/>
<use href="#mg" x="104.58" y="269.75"/>
<use href="#mg" x="107.96" y="265.91"/>
<use href="#mg" x="111.34" y="262.51"/>
<use href="#mg" x="114.72" y="259.55"/>
<use href="#mg" x="118.1" y="257.02"/>
<use href="#mg" x="121.48" y="254.94"/>
<use href="#mg" x="124.86" y="253.29"/>
<use href="#mg" x="128.24" y="252.09"/>
<use href="#mg" x="131.62" y="251.34"/>
<use href="#mg" x="135" y="251.03"/>
<use href="#mg" x="138.38" y="251.17"/>
<use href="#mg" x="141.76" y="251.75"/>
<use href="#mg" x="145.14" y="252.79"/>
<use href="#mg" x="148.52" y="254.28"/>
<use href="#mg" x="151.9" y="256.22"/>
<use href="#mg" x="155.28" y="258.62"/>
<use href="#mg" x="158.66" y="261.47"/>
<use href="#mg" x="162.04" y="264.74"/>
<use href="#mg" x="165.42" y="268.41"/>
<use href="#mg" x="168.8" y="272.46"/>
<use href="#mg" x="172.18" y="276.84"/>
<use href="#mg" x="175.56" y="281.54"/>
<use href="#mg" x="178.94" y="286.53"/>
<use href="#mg" x="182.32" y="291.77"/>
<use href="#mg" x="185.7" y="297.2"/>
<use href="#mg" x="189.08" y="302.68"/>
<use href="#mg" x="192.46" y="308.05"/>
<use href="#mg" x="195.84" y="313.17"/>
<use href="#mg" x="199.22" y="317.87"/>
<use href="#mg" x="202.6" y="321.99"/>
<use href="#mg" x="205.98" y="325.39"/>
<use href="#mg" x="209.36" y="327.92"/>
<use href="#mg" x="212.74" y="329.46"/>
<use href="#mg" x="216.12" y="330.08"/>
<use href="#mg" x="219.5" y="329.84"/>
<use href="#mg" x="222.88" y="328.8"/>
<use href="#mg" x="226.26" y="327.03"/>
<use href="#mg" x="229.64" y="324.59"/>
<use href="#mg" x="233.02" y="321.54"/>
<use href="#mg" x="236.4" y="317.96"/>
<use href="#mg" x="239.78" y="313.91"/>
<use href="#mg" x="243.16" y="309.45"/>
<use href="#mg" x="246.54" y="304.65"/>
<use href="#mg" x="249.92" y="299.57"/>
<use href="#mg" x="253.3" y="294.28"/>
<use href="#mg" x="256.68" y="288.84"/>
<use href="#mg" x="260.06" y="283.33"/>
<use href="#mb" x="50.5" y="367.98"/>
<use href="#mb" x="53.88" y="364.97"/>
<use href="#mb" x="57.26" y="360.77"/>
<use href="#mb" x="60.64" y="355.56"/>
<use href="#mb" x="64.02" y="349.47"/>
<use href="#mb" x="67.4" y="342.69"/>
<use href="#mb" x="70.78" y="335.37"/>
<use href="#mb" x="74.16" y="327.66"/>
<use href="#mb" x="77.54" y="319.74"/>
<use href="#mb" x="80.92" y="311.74"/>
<use href="#mb" x="84.3" y="303.78"/>
<use href="#mb" x="87.68" y="295.96"/>
<use href="#mb" x="91.06" y="288.37"/>
<use href="#mb" x="94.44" y="281.12"/>
<use href="#mb" x="97.82" y="274.29"/>
<use href="#mb" x="101.2" y="268.01"/>
<use href="#mb" x="104.58" y="262.35"/>
<use href="#mb" x="107.96" y="257.38"/>
<use href="#mb" x="111.34" y="253.06"/>
<use href="#mb" x="114.72" y="249.4"/>
<use href="#mb" x="118.1" y="246.38"/>
<use href="#mb" x="121.48" y="243.97"/>
<use href="#mb" x="124.86" y="242.16"/>
<use href="#mb" x="128.24" y="240.94"/>
<use href="#mb" x="131.62" y="240.29"/>
<use href="#mb" x="135" y="240.19"/>
<use href="#mb" x="138.38" y="240.63"/>
<use href="#mb" x="141.76" y="241.59"/>
<use href="#mb" x="145.14" y="243.05"/>
<use href="#mb" x="148.52" y="245.01"/>
<use href="#mb" x="151.9" y="247.44"/>
<use href="#mb" x="155.28" y="250.33"/>
<use href="#mb" x="158.66" y="253.66"/>
<use href="#mb" x="162.04" y="257.46"/>
<use href="#mb" x="165.42" y="261.78"/>
<use href="#mb" x="168.8" y="266.67"/>
<use href="#mb" x="172.18" y="272.15"/>
<use href="#mb" x="175.56" y="278.18"/>
<use href="#mb" x="178.94" y="284.7"/>
<use href="#mb" x="182.32" y="291.63"/>
<use href="#mb" x="185.7" y="298.82"/>
<use href="#mb" x="189.08" y="306.1"/>
<use href="#mb" x="192.46" y="313.29"/>
<use href="#mb" x="195.84" y="320.22"/>
<use href="#mb" x="199.22" y="326.73"/>
<use href="#mb" x="202.6" y="332.63"/>
<use href="#mb" x="205.98" y="337.76"/>
<use href="#mb" x="209.36" y="341.94"/>
<use href="#mb" x="212.74" y="345.04"/>
<use href="#mb" x="216.12" y="347.07"/>
<use href="#mb" x="219.5" y="348.08"/>
<use href="#mb" x="222.88" y="348.09"/>
<use href="#mb" x="226.26" y="347.15"/>
<use href="#mb" x="229.64" y="345.29"/>
<use href="#mb" x="233.02" y="342.57"/>
<use href="#mb" x="236.4" y="339.01"/>
<use href="#mb" x="239.78" y="334.72"/>
<use href="#mb" x="243.16" y="329.92"/>
<use href="#mb" x="246.54" y="324.88"/>
<use href="#mb" x="249.92" y="319.85"/>
<use href="#mb" x="253.3" y="315.06"/>
<use href="#mb" x="256.68" y="310.78"/>
<use href="#mb" x="260.06" y="307.25"/>
<use href="#mc" x="50.5" y="381.41"/>
<use href="#mc" x="53.88" y="380.26"/>
<use href="#mc" x="57.26" y="378.72"/>
<use href="#mc" x="60.64" y="376.78"/>
<use href="#mc" x="64.02" y="374.44"/>
<use href="#mc" x="67.4" y="371.67"/>
<use href="#mc" x="70.78" y="368.46"/>
<use href="#mc" x="74.16" y="364.8"/>
<use href="#mc" x="77.54" y="360.68"/>
<use href="#mc" x="80.92" y="356.13"/>
<use href="#mc" x="84.3" y="351.17"/>
<use href="#mc" x="87.68" y="345.83"/>
<use href="#mc" x="91.06" y="340.13"/>
<use href="#mc" x="94.44" y="334.11"/>
<use href="#mc" x="97.82" y="327.79"/>
<use href="#mc" x="101.2" y="321.19"/>
<use href="#mc" x="104.58" y="314.37"/>
<use href="#mc" x="107.96" y="307.47"/>
<use href="#mc" x="111.34" y="300.61"/>
<use href="#mc" x="114.72" y="293.93"/>
<use href="#mc" x="118.1" y="287.55"/>
<use href="#mc" x="121.48" y="281.63"/>
<use href="#mc" x="124.86" y="276.28"/>
<use href="#mc" x="128.24" y="271.63"/>
<use href="#mc" x="131.62" y="267.74"/>
<use href="#mc" x="135" y="264.54"/>
<use href="#mc" x="138.38" y="261.99"/>
<use href="#mc" x="141.76" y="260.03"/>
<use href="#mc" x="145.14" y="258.61"/>
<use href="#mc" x="148.52" y="257.68"/>
<use href="#mc" x="151.9" y="257.19"/>
<use href="#mc" x="155.28" y="257.12"/>
<use href="#mc" x="158.66" y="257.51"/>
<use href="#mc" x="162.04" y="258.38"/>
<use href="#mc" x="165.42" y="259.76"/>
<use href="#mc" x="168.8" y="261.69"/>
<use href="#mc" x="172.18" y="264.19"/>
<use href="#mc" x="175.56" y="267.28"/>
<use href="#mc" x="178.94" y="271.01"/>
<use href="#mc" x="182.32" y="275.36"/>
<use href="#mc" x="185.7" y="280.23"/>
<use href="#mc" x="189.08" y="285.5"/>
<use href="#mc" x="192.46" y="291.05"/>
<use href="#mc" x="195.84" y="296.76"/>
<use href="#mc" x="199.22" y="302.53"/>
<use href="#mc" x="202.6" y="308.22"/>
<use href="#mc" x="205.98" y="313.72"/>
<use href="#mc" x="209.36" y="318.89"/>
<use href="#mc" x="212.74" y="323.52"/>
<use href="#mc" x="216.12" y="327.44"/>
<use href="#mc" x="219.5" y="330.46"/>
<use href="#mc" x="222.88" y="332.45"/>
<use href="#mc" x="226.26" y="333.36"/>
<use href="#mc" x="229.64" y="333.16"/>
<use href="#mc" x="233.02" y="331.81"/>
<use href="#mc" x="236.4" y="329.34"/>
<use href="#mc" x="239.78" y="325.96"/>
<use href="#mc" x="243.16" y="321.88"/>
<use href="#mc" x="246.54" y="317.32"/>
<use href="#mc" x="249.92" y="312.49"/>
<use href="#mc" x="253.3" y="307.61"/>
<use href="#mc" x="256.68" y="302.89"/>
<use href="#mc" x="260.06" y="298.56"/>
<rect x="31.5" y="224.6" width="243" height="179.3" fill="none" stroke="#333" stroke-width="1.3"/>
<line x1="31.5" y1="391.2" x2="35.5" y2="391.2" stroke="#333" stroke-width="1.1"/>
<text x="27" y="394" font-size="8.2" text-anchor="end" class="s" fill="#2a2a2a" >0</text>
<line x1="31.5" y1="378.35" x2="33.7" y2="378.35" stroke="#333" stroke-width="1.1"/>
<line x1="31.5" y1="365.5" x2="35.5" y2="365.5" stroke="#333" stroke-width="1.1"/>
<text x="27" y="368.3" font-size="8.2" text-anchor="end" class="s" fill="#2a2a2a" >10</text>
<line x1="31.5" y1="352.65" x2="33.7" y2="352.65" stroke="#333" stroke-width="1.1"/>
<line x1="31.5" y1="339.8" x2="35.5" y2="339.8" stroke="#333" stroke-width="1.1"/>
<text x="27" y="342.6" font-size="8.2" text-anchor="end" class="s" fill="#2a2a2a" >20</text>
<line x1="31.5" y1="326.95" x2="33.7" y2="326.95" stroke="#333" stroke-width="1.1"/>
<line x1="31.5" y1="314.1" x2="35.5" y2="314.1" stroke="#333" stroke-width="1.1"/>
<text x="27" y="316.9" font-size="8.2" text-anchor="end" class="s" fill="#2a2a2a" >30</text>
<line x1="31.5" y1="301.25" x2="33.7" y2="301.25" stroke="#333" stroke-width="1.1"/>
<line x1="31.5" y1="288.4" x2="35.5" y2="288.4" stroke="#333" stroke-width="1.1"/>
<text x="27" y="291.2" font-size="8.2" text-anchor="end" class="s" fill="#2a2a2a" >40</text>
<line x1="31.5" y1="275.55" x2="33.7" y2="275.55" stroke="#333" stroke-width="1.1"/>
<line x1="31.5" y1="262.7" x2="35.5" y2="262.7" stroke="#333" stroke-width="1.1"/>
<text x="27" y="265.5" font-size="8.2" text-anchor="end" class="s" fill="#2a2a2a" >50</text>
<line x1="31.5" y1="249.85" x2="33.7" y2="249.85" stroke="#333" stroke-width="1.1"/>
<line x1="31.5" y1="237" x2="35.5" y2="237" stroke="#333" stroke-width="1.1"/>
<text x="27" y="239.8" font-size="8.2" text-anchor="end" class="s" fill="#2a2a2a" >60</text>
<text x="31.3" y="415" font-size="8.2" text-anchor="middle" class="s" fill="#2a2a2a" >-2</text>
<line x1="47.47" y1="403.9" x2="47.47" y2="401.9" stroke="#333" stroke-width="1.1"/>
<line x1="63.65" y1="403.9" x2="63.65" y2="400.3" stroke="#333" stroke-width="1.1"/>
<text x="63.65" y="415" font-size="8.2" text-anchor="middle" class="s" fill="#2a2a2a" >-1</text>
<line x1="79.83" y1="403.9" x2="79.83" y2="401.9" stroke="#333" stroke-width="1.1"/>
<line x1="96" y1="403.9" x2="96" y2="400.3" stroke="#333" stroke-width="1.1"/>
<text x="96" y="415" font-size="8.2" text-anchor="middle" class="s" fill="#2a2a2a" >0</text>
<line x1="112.17" y1="403.9" x2="112.17" y2="401.9" stroke="#333" stroke-width="1.1"/>
<line x1="128.35" y1="403.9" x2="128.35" y2="400.3" stroke="#333" stroke-width="1.1"/>
<text x="128.35" y="415" font-size="8.2" text-anchor="middle" class="s" fill="#2a2a2a" >1</text>
<line x1="144.53" y1="403.9" x2="144.53" y2="401.9" stroke="#333" stroke-width="1.1"/>
<line x1="160.7" y1="403.9" x2="160.7" y2="400.3" stroke="#333" stroke-width="1.1"/>
<text x="160.7" y="415" font-size="8.2" text-anchor="middle" class="s" fill="#2a2a2a" >2</text>
<line x1="176.88" y1="403.9" x2="176.88" y2="401.9" stroke="#333" stroke-width="1.1"/>
<line x1="193.05" y1="403.9" x2="193.05" y2="400.3" stroke="#333" stroke-width="1.1"/>
<text x="193.05" y="415" font-size="8.2" text-anchor="middle" class="s" fill="#2a2a2a" >3</text>
<line x1="209.23" y1="403.9" x2="209.23" y2="401.9" stroke="#333" stroke-width="1.1"/>
<line x1="225.4" y1="403.9" x2="225.4" y2="400.3" stroke="#333" stroke-width="1.1"/>
<text x="225.4" y="415" font-size="8.2" text-anchor="middle" class="s" fill="#2a2a2a" >4</text>
<line x1="241.58" y1="403.9" x2="241.58" y2="401.9" stroke="#333" stroke-width="1.1"/>
<line x1="257.75" y1="403.9" x2="257.75" y2="400.3" stroke="#333" stroke-width="1.1"/>
<text x="257.75" y="415" font-size="8.2" text-anchor="middle" class="s" fill="#2a2a2a" >5</text>
<text x="37" y="246" font-size="14.5" text-anchor="start" class="t" fill="#222" stroke="#222" stroke-width="0.35">(c)</text>
<text x="109.8" y="423.9" font-size="8.45" text-anchor="start" class="s" fill="#2a2a2a" >log Frequency(HZ)</text>
<text transform="translate(13.8,350.6) rotate(-90)" font-size="8.9" class="s" fill="#333">Phase angle(θ)</text>
<use href="#Lr" x="124.1" y="320.1"/>
<text x="136.5" y="323.2" font-size="8.7" text-anchor="start" class="s" fill="#2a2a2a" >1.0% CeO<tspan dy="2.5" dx="-0.2" font-size="5.6">2</tspan></text>
<use href="#Lg" x="124.1" y="333.9"/>
<text x="136.5" y="337" font-size="8.7" text-anchor="start" class="s" fill="#2a2a2a" >0.0% CeO<tspan dy="2.5" dx="-0.2" font-size="5.6">2</tspan></text>
<use href="#Lb" x="124.1" y="347.3"/>
<text x="136.5" y="350.4" font-size="8.7" text-anchor="start" class="s" fill="#2a2a2a" >1.5% CeO<tspan dy="2.5" dx="-0.2" font-size="5.6">2</tspan></text>
<use href="#Lc" x="124.1" y="361.1"/>
<text x="136.5" y="364.2" font-size="8.7" text-anchor="start" class="s" fill="#2a2a2a" >2.0% CeO<tspan dy="2.5" dx="-0.2" font-size="5.6">2</tspan></text>
<line x1="117" y1="373.5" x2="133.9" y2="373.5" stroke="#222" stroke-width="1.1"/>
<text x="138" y="375.2" font-size="8.7" text-anchor="start" class="s" fill="#2a2a2a" >fit results</text>
<rect x="275.7" y="225.3" width="269.3" height="199.3" fill="none" stroke="#000" stroke-width="2.2"/>
<text x="287" y="244.8" font-size="15.3" text-anchor="start" class="t" fill="#222" stroke="#222" stroke-width="0.35">(d)</text>
<line x1="277.4" y1="329.1" x2="544" y2="329.1" stroke="#1a1a1a" stroke-width="1.5" stroke-dasharray="8.7,2.7" stroke-dashoffset="5.4"/>
<line x1="359.2" y1="231.5" x2="359.2" y2="321" stroke="#1a1a1a" stroke-width="1.2" stroke-dasharray="9,1.8" stroke-dashoffset="4.8"/>
<line x1="377" y1="332.2" x2="377" y2="416.2" stroke="#1a1a1a" stroke-width="1.2" stroke-dasharray="8.5,2.4" stroke-dashoffset="2"/>
<text x="294.4" y="255.2" font-size="10.2" text-anchor="start" class="t" fill="#222" stroke="#222" stroke-width="0.35">NaCl Solution</text>
<text x="363.4" y="255.3" font-size="10.3" text-anchor="start" class="t" fill="#222" stroke="#222" stroke-width="0.35">Substrate</text>
<text x="310.6" y="346.9" font-size="10.2" text-anchor="start" class="t" fill="#222" stroke="#222" stroke-width="0.35">NaCl Solution</text>
<text x="384" y="347.1" font-size="10.2" text-anchor="start" class="t" fill="#222" stroke="#222" stroke-width="0.35">Coating</text>
<line x1="290.4" y1="276.2" x2="326.8" y2="276.2" stroke="#222" stroke-width="1.35"/>
<rect x="327.4" y="273.2" width="24.2" height="5.2" fill="#fff" stroke="#111" stroke-width="1.4"/>
<line x1="352.2" y1="276" x2="371.5" y2="276" stroke="#222" stroke-width="1.35"/>
<line x1="371.5" y1="261.1" x2="371.5" y2="294.2" stroke="#222" stroke-width="1.3"/>
<line x1="371.5" y1="261.1" x2="427.9" y2="261.1" stroke="#222" stroke-width="1.35"/>
<line x1="432.4" y1="261.1" x2="495.2" y2="261.1" stroke="#222" stroke-width="1.35"/>
<line x1="427.9" y1="256.3" x2="427.9" y2="266.6" stroke="#222" stroke-width="1.5"/>
<line x1="432.5" y1="256.3" x2="432.5" y2="266.6" stroke="#222" stroke-width="1.5"/>
<line x1="371.5" y1="294.2" x2="427.6" y2="294.2" stroke="#222" stroke-width="1.35"/>
<line x1="453.1" y1="294.2" x2="495.2" y2="294.2" stroke="#222" stroke-width="1.35"/>
<rect x="428.2" y="292.7" width="24.3" height="3.5" fill="#bbb" stroke="#111" stroke-width="1.6"/>
<line x1="494.6" y1="261.1" x2="494.6" y2="294.2" stroke="#222" stroke-width="1.3"/>
<line x1="494.6" y1="277.6" x2="532.8" y2="277.6" stroke="#222" stroke-width="1.35"/>
<text x="334.8" y="287.8" font-size="9.5" class="t" font-style="italic" fill="#222" stroke="#222" stroke-width="0.3">R<tspan dy="2.5" font-size="5.5" font-style="normal">s</tspan></text>
<text x="419.1" y="274.5" font-size="9.5" class="t" font-style="italic" fill="#222" stroke="#222" stroke-width="0.3">CPE<tspan dy="2.5" font-size="5.5" font-style="normal">f</tspan></text>
<text x="436" y="305" font-size="9.5" class="t" font-style="italic" fill="#222" stroke="#222" stroke-width="0.3">R<tspan dy="2.5" font-size="5.5" font-style="normal">f</tspan></text>
<line x1="291.2" y1="375" x2="336.9" y2="375" stroke="#222" stroke-width="1.35"/>
<rect x="337.5" y="373.3" width="23" height="3.6" fill="#bbb" stroke="#111" stroke-width="1.6"/>
<line x1="361" y1="375" x2="390" y2="375" stroke="#222" stroke-width="1.35"/>
<line x1="390" y1="354.4" x2="390" y2="400" stroke="#222" stroke-width="1.3"/>
<line x1="390" y1="354.4" x2="427.9" y2="354.4" stroke="#222" stroke-width="1.35"/>
<line x1="431.3" y1="354.4" x2="495.4" y2="354.4" stroke="#222" stroke-width="1.35"/>
<line x1="427.9" y1="350.1" x2="427.9" y2="360.6" stroke="#222" stroke-width="1.5"/>
<line x1="431.3" y1="350.1" x2="431.3" y2="360.6" stroke="#222" stroke-width="1.5"/>
<line x1="495.4" y1="354.4" x2="495.4" y2="416.8" stroke="#222" stroke-width="1.3"/>
<line x1="495.4" y1="374.8" x2="532.7" y2="374.8" stroke="#222" stroke-width="1.35"/>
<line x1="390" y1="400" x2="428.7" y2="400" stroke="#222" stroke-width="1.35"/>
<rect x="429.2" y="398.4" width="20.2" height="3.4" fill="#bbb" stroke="#111" stroke-width="1.6"/>
<line x1="449.8" y1="400" x2="468.4" y2="400" stroke="#222" stroke-width="1.35"/>
<line x1="471.9" y1="400" x2="495.4" y2="400" stroke="#222" stroke-width="1.35"/>
<line x1="468.4" y1="394.1" x2="468.4" y2="405" stroke="#222" stroke-width="1.5"/>
<line x1="471.9" y1="394.1" x2="471.9" y2="405" stroke="#222" stroke-width="1.5"/>
<line x1="456.6" y1="400" x2="456.6" y2="416.8" stroke="#222" stroke-width="1.3"/>
<line x1="456.6" y1="416.8" x2="469.2" y2="416.8" stroke="#222" stroke-width="1.35"/>
<line x1="485.2" y1="416.8" x2="495.4" y2="416.8" stroke="#222" stroke-width="1.35"/>
<rect x="469.6" y="415" width="15.3" height="3.4" fill="#bbb" stroke="#111" stroke-width="1.6"/>
<text x="344.4" y="386.2" font-size="9.5" class="t" font-style="italic" fill="#222" stroke="#222" stroke-width="0.3">R<tspan dy="2.5" font-size="5.5" font-style="normal">s</tspan></text>
<text x="419.5" y="368.8" font-size="9.5" class="t" font-style="italic" fill="#222" stroke="#222" stroke-width="0.3">CPE<tspan dy="2.5" font-size="5.5" font-style="normal">b</tspan></text>
<text x="460" y="389" font-size="9.5" class="t" font-style="italic" fill="#222" stroke="#222" stroke-width="0.3">CPE<tspan dy="2.5" font-size="5.5" font-style="normal">f</tspan></text>
<text x="435.7" y="411" font-size="9.5" class="t" font-style="italic" fill="#222" stroke="#222" stroke-width="0.3">R<tspan dy="2.5" font-size="5.5" font-style="normal">b</tspan></text>
<text x="476.4" y="410.8" font-size="9.5" class="t" font-style="italic" fill="#222" stroke="#222" stroke-width="0.3">R<tspan dy="2.5" font-size="5.5" font-style="normal">f</tspan></text>
</svg></body></html>
